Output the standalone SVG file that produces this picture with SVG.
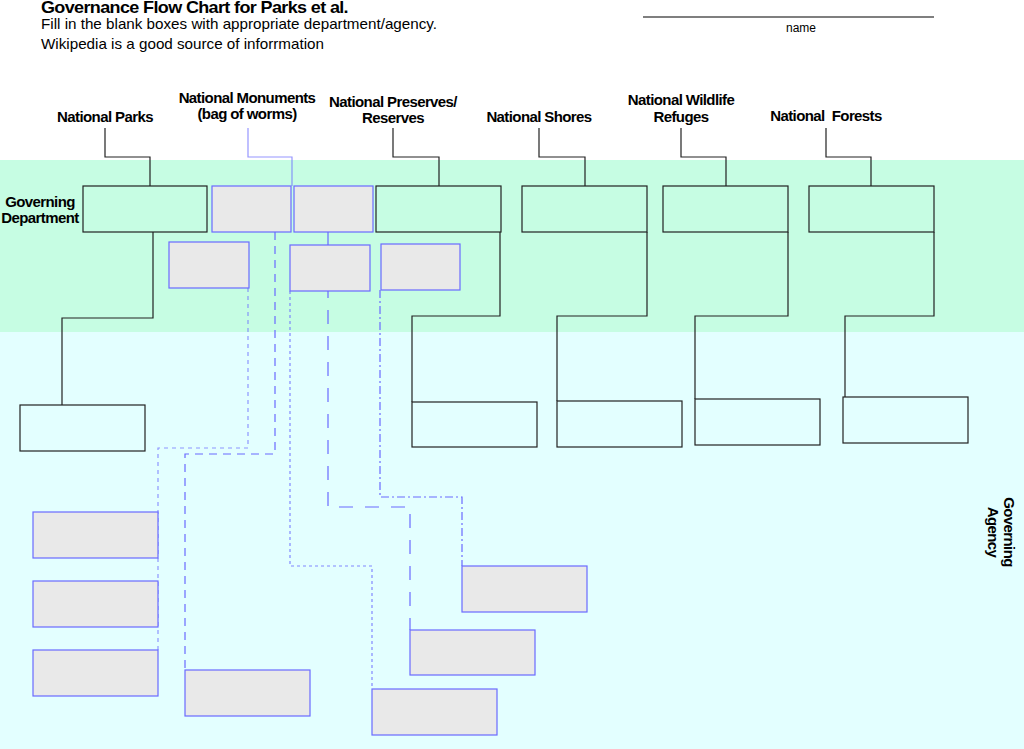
<svg xmlns="http://www.w3.org/2000/svg" width="1024" height="749" viewBox="0 0 1024 749">
<style>
text{font-family:"Liberation Sans",Arial,sans-serif;fill:#000}
.h{font-size:15px;font-weight:bold;letter-spacing:-0.6px}
.g{fill:#c6fde3;stroke:#222;stroke-width:1.2}
.c{fill:#e3ffff;stroke:#222;stroke-width:1.2}
.b{fill:#e9e9e9;stroke:#6a6aff;stroke-width:1.2}
.k{fill:none;stroke:#222;stroke-width:1.2}
.u{fill:none;stroke:#6a6aff;stroke-width:1.2}
</style>
<rect width="1024" height="749" fill="#fff"/>
<rect x="0" y="160" width="1024" height="172" fill="#c6fde3"/>
<rect x="0" y="332" width="1024" height="417" fill="#e3ffff"/>
<text x="41" y="13" style="font-size:17px;font-weight:bold;letter-spacing:-0.6px" textLength="307" lengthAdjust="spacingAndGlyphs">Governance Flow Chart for Parks et al.</text>
<text x="41" y="29" font-size="15" textLength="396" lengthAdjust="spacingAndGlyphs">Fill in the blank boxes with appropriate department/agency.</text>
<text x="41" y="49" font-size="15" textLength="283" lengthAdjust="spacingAndGlyphs">Wikipedia is a good source of inforrmation</text>
<line x1="643" y1="17" x2="934" y2="17" stroke="#000" stroke-width="1.2"/>
<text x="801" y="32" font-size="12" text-anchor="middle">name</text>
<g id="labels">
<text class="h" x="105" y="122" text-anchor="middle">National Parks</text>
<text class="h" x="247" y="103" text-anchor="middle">National Monuments</text>
<text class="h" x="247" y="119" text-anchor="middle">(bag of worms)</text>
<text class="h" x="393" y="107" text-anchor="middle">National Preserves/</text>
<text class="h" x="393" y="123" text-anchor="middle">Reserves</text>
<text class="h" x="539" y="122" text-anchor="middle">National Shores</text>
<text class="h" x="681" y="105" text-anchor="middle">National Wildlife</text>
<text class="h" x="681" y="122" text-anchor="middle">Refuges</text>
<text class="h" x="826" y="121" text-anchor="middle" xml:space="preserve">National  Forests</text>
<text class="h" x="40" y="207" text-anchor="middle">Governing</text>
<text class="h" x="40" y="223" text-anchor="middle">Department</text>
<text class="h" transform="translate(1004,532) rotate(90)" text-anchor="middle">Governing</text>
<text class="h" transform="translate(988,532) rotate(90)" text-anchor="middle">Agency</text>
</g>
<g id="connectors">
<polyline class="k" points="105,128 105,157 150,157 150,186"/>
<polyline class="k" points="153,232 153,318 62,318 62,405"/>
<polyline class="u" points="248,128 248,157 292,157 292,186" stroke-opacity="0.7"/>
<polyline class="k" points="393,128 393,157 439,157 439,186"/>
<polyline class="k" points="500,232 500,316 412,316 412,402"/>
<polyline class="k" points="539,128 539,157 585,157 585,186"/>
<polyline class="k" points="647,232 647,316 557,316 557,401"/>
<polyline class="k" points="681,128 681,157 726,157 726,186"/>
<polyline class="k" points="788,232 788,316 695,316 695,399"/>
<polyline class="k" points="826,128 826,157 871,157 871,186"/>
<polyline class="k" points="934,232 934,316 845,316 845,397"/>
<polyline class="u" points="275,232 275,454 185,454 185,670" stroke-dasharray="8,6"/>
<polyline class="u" points="248,288 248,448 158,448 158,650" stroke-dasharray="4,4" stroke-opacity="0.7"/>
<polyline class="u" points="328,232 328,507 410,507 410,630" stroke-dasharray="14,12"/>
<polyline class="u" points="290,291 290,566 372,566 372,689" stroke-dasharray="3,3" stroke-opacity="0.8"/>
<polyline class="u" points="380,290 380,497 462,497 462,566" stroke-dasharray="8,3,2,3"/>
</g>
<g id="n-parks-dept"><rect class="g" x="83" y="186" width="124" height="46"/></g>
<g id="n-mon1"><rect class="b" x="212" y="186" width="79" height="46"/></g>
<g id="n-mon2"><rect class="b" x="294" y="186" width="79" height="46"/></g>
<g id="n-mon3"><rect class="b" x="169" y="242" width="80" height="46"/></g>
<g id="n-mon4"><rect class="b" x="290" y="245" width="80" height="46"/></g>
<g id="n-mon5"><rect class="b" x="381" y="244" width="79" height="46"/></g>
<g id="n-pres-dept"><rect class="g" x="376" y="186" width="125" height="46"/></g>
<g id="n-shore-dept"><rect class="g" x="522" y="186" width="125" height="46"/></g>
<g id="n-ref-dept"><rect class="g" x="663" y="186" width="125" height="46"/></g>
<g id="n-for-dept"><rect class="g" x="809" y="186" width="125" height="46"/></g>
<g id="n-parks-ag"><rect class="c" x="20" y="405" width="125" height="46"/></g>
<g id="n-pres-ag"><rect class="c" x="412" y="402" width="125" height="45"/></g>
<g id="n-shore-ag"><rect class="c" x="557" y="401" width="125" height="46"/></g>
<g id="n-ref-ag"><rect class="c" x="695" y="399" width="125" height="46"/></g>
<g id="n-for-ag"><rect class="c" x="843" y="397" width="125" height="46"/></g>
<g id="n-a1"><rect class="b" x="33" y="512" width="125" height="46"/></g>
<g id="n-a2"><rect class="b" x="33" y="581" width="125" height="46"/></g>
<g id="n-a3"><rect class="b" x="33" y="650" width="125" height="46"/></g>
<g id="n-a4"><rect class="b" x="185" y="670" width="125" height="46"/></g>
<g id="n-a5"><rect class="b" x="372" y="689" width="125" height="46"/></g>
<g id="n-a6"><rect class="b" x="410" y="630" width="125" height="45"/></g>
<g id="n-a7"><rect class="b" x="462" y="566" width="125" height="46"/></g>
</svg>
